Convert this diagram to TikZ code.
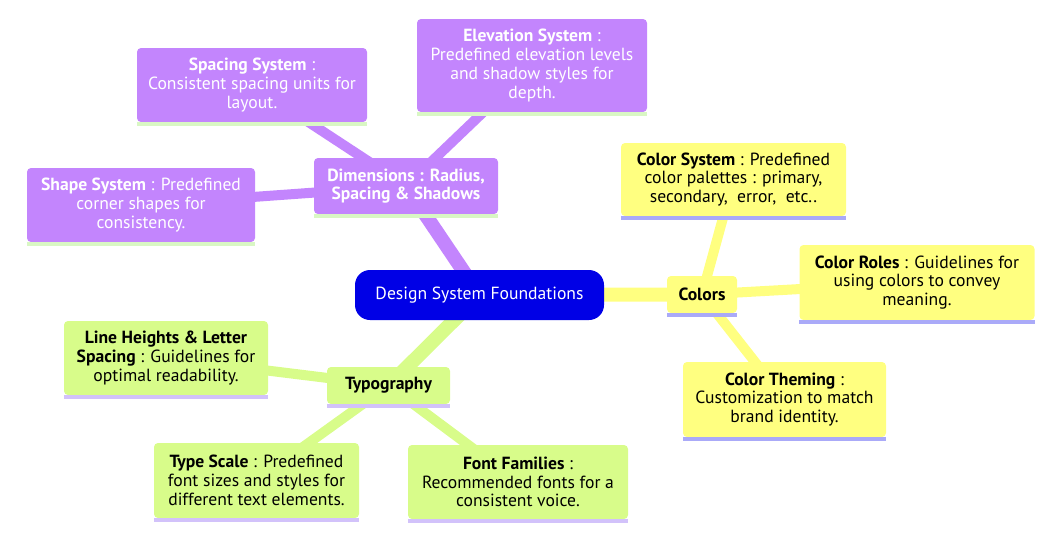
\documentclass[tikz,border=0pt]{standalone}
\usepackage{fontspec}
\setmainfont{PT Sans}
\pgfdeclarelayer{bg}
\pgfsetlayers{bg,main}
\definecolor{purp}{HTML}{C385FD}
\definecolor{yel}{HTML}{FFFF80}
\definecolor{grn}{HTML}{D8FC8A}
\definecolor{rootblue}{HTML}{0000E6}
\definecolor{purpline}{HTML}{D9F7C4}
\definecolor{yelline}{HTML}{AAAAF8}
\definecolor{grnline}{HTML}{D2C2FA}
\newcommand{\txtfont}{\fontsize{17.6}{18.7}\selectfont}
\tikzset{
  box/.style={rounded corners=4pt, inner sep=0pt, align=center, font=\txtfont},
  pbox/.style={box, fill=purp, text=white},
  ybox/.style={box, fill=yel, text=black},
  gbox/.style={box, fill=grn, text=black},
  rootbox/.style={rounded corners=15pt, inner sep=0pt, align=center, fill=rootblue, text=white, font=\txtfont},
  e1/.style={line width=14pt},
  e2/.style={line width=10pt},
  bline/.style={line width=3.5pt}
}
\newcommand{\botline}[2]{\draw[bline,#2] ([yshift=-1.75pt]#1.south west) -- ([yshift=-1.75pt]#1.south east);}
\begin{document}
\begin{tikzpicture}[x=1pt,y=-1pt]
\useasboundingbox (0,0) rectangle (1058,554);
% nodes
\node[rootbox, minimum width=249pt, minimum height=50pt] (root) at (479.5,295) {Design System Foundations};

\node[pbox, minimum width=184pt, minimum height=56pt, font=\txtfont\bfseries] (dim) at (406,186) {Dimensions : Radius,\\Spacing \& Shadows};
\node[pbox, minimum width=230pt, minimum height=74pt] (spacing) at (252,85) {\textbf{Spacing System} :\\Consistent spacing units for\\layout.};
\node[pbox, minimum width=228pt, minimum height=74pt] (shape) at (141,205) {\textbf{Shape System} : Predefined\\corner shapes for\\consistency.};
\node[pbox, minimum width=230pt, minimum height=93pt] (elev) at (532,65.5) {\textbf{Elevation System} :\\Predefined elevation levels\\and shadow styles for\\depth.};

\node[ybox, minimum width=70pt, minimum height=37pt, font=\txtfont\bfseries] (colors) at (702,294.5) {Colors};
\node[ybox, minimum width=225pt, minimum height=73pt] (csys) at (733.5,179.5) {\textbf{Color System} : Predefined\\color palettes : primary,\\secondary,~ error,~ etc..};
\node[ybox, minimum width=235pt, minimum height=75pt] (croles) at (917,282.5) {\textbf{Color Roles} : Guidelines for\\using colors to convey\\meaning.};
\node[ybox, minimum width=203pt, minimum height=75pt] (ctheme) at (784.5,399.5) {\textbf{Color Theming} :\\Customization to match\\brand identity.};

\node[gbox, minimum width=123pt, minimum height=37pt, font=\txtfont\bfseries] (typo) at (388.5,385.5) {Typography};
\node[gbox, minimum width=204pt, minimum height=74pt] (lineh) at (166,358) {\textbf{Line Heights \& Letter}\\\textbf{Spacing} : Guidelines for\\optimal readability.};
\node[gbox, minimum width=205pt, minimum height=75pt] (tscale) at (256.5,480.5) {\textbf{Type Scale} : Predefined\\font sizes and styles for\\different text elements.};
\node[gbox, minimum width=220pt, minimum height=74pt] (ffam) at (518,482) {\textbf{Font Families} :\\Recommended fonts for a\\consistent voice.};

% bottom lines
\botline{dim}{purpline}
\botline{spacing}{purpline}
\botline{shape}{purpline}
\botline{elev}{purpline}
\botline{colors}{yelline}
\botline{csys}{yelline}
\botline{croles}{yelline}
\botline{ctheme}{yelline}
\botline{typo}{grnline}
\botline{lineh}{grnline}
\botline{tscale}{grnline}
\botline{ffam}{grnline}

% edges
\begin{pgfonlayer}{bg}
\draw[e1,purp] (root.center) -- (dim.center);
\draw[e2,purp] (dim.center) -- (spacing.center);
\draw[e2,purp] (dim.center) -- (shape.center);
\draw[e2,purp] (dim.center) -- (elev.center);
\draw[e1,yel] (root.center) -- (colors.center);
\draw[e2,yel] (colors.center) -- (csys.center);
\draw[e2,yel] (colors.center) -- (croles.center);
\draw[e2,yel] (colors.center) -- (ctheme.center);
\draw[e1,grn] (root.center) -- (typo.center);
\draw[e2,grn] (typo.center) -- (lineh.center);
\draw[e2,grn] (typo.center) -- (tscale.center);
\draw[e2,grn] (typo.center) -- (ffam.center);
\end{pgfonlayer}
\end{tikzpicture}
\end{document}
